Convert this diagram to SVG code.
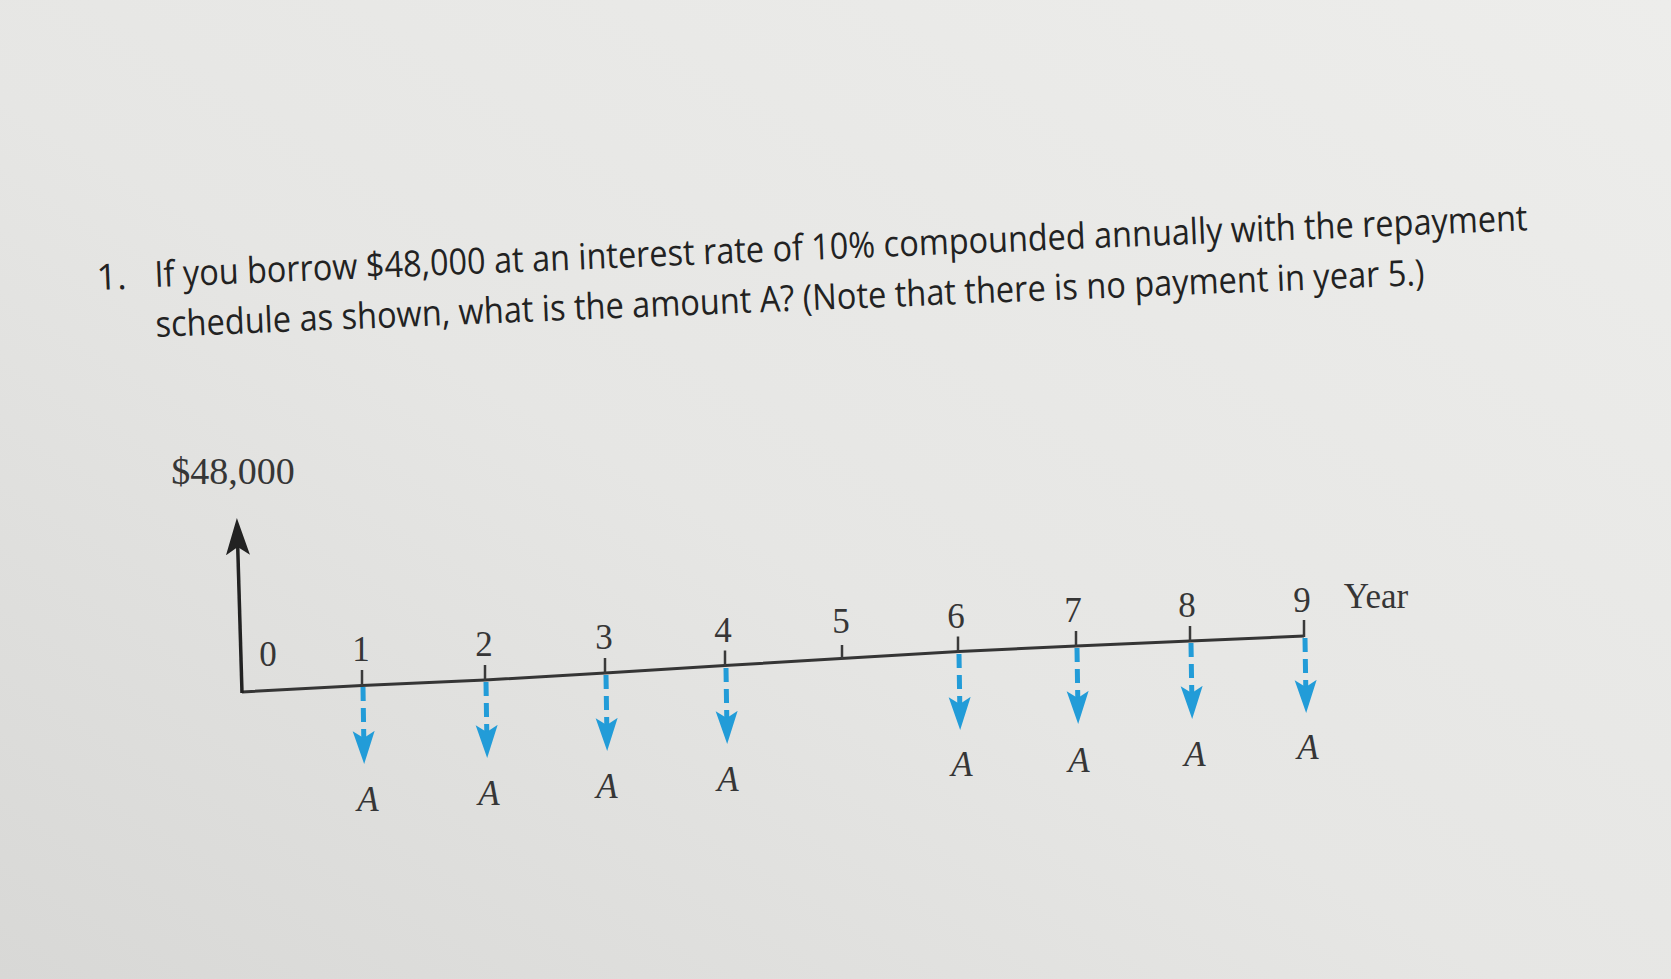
<svg xmlns="http://www.w3.org/2000/svg" width="1671" height="979" viewBox="0 0 1671 979">
  <defs>
    <linearGradient id="bg" x1="1" y1="0" x2="0" y2="1">
      <stop offset="0" stop-color="#ededeb"/>
      <stop offset="0.55" stop-color="#e6e6e4"/>
      <stop offset="1" stop-color="#d8d8d6"/>
    </linearGradient>
    <marker id="blueHead" markerUnits="userSpaceOnUse" viewBox="0 -12 34 24" refX="22" refY="0" markerWidth="34" markerHeight="24" orient="auto">
      <path d="M0,-11 L33,0 L0,11 L7,0 Z" fill="#229cd8"/>
    </marker>
    <marker id="blackHead" markerUnits="userSpaceOnUse" viewBox="0 -13 38 26" refX="26" refY="0" markerWidth="38" markerHeight="26" orient="auto">
      <path d="M0,-12 L37,0 L0,12 L8,0 Z" fill="#222"/>
    </marker>
  </defs>
  <style>
    .title { font-family: "Open Sans", "Liberation Sans", sans-serif; font-size: 36px; font-weight: 500; fill: #222; }
    .num { font-family: "Liberation Serif", serif; font-size: 35px; fill: #363636; text-anchor: middle; }
    .amt { font-family: "Liberation Serif", serif; font-size: 35px; font-style: italic; fill: #363636; text-anchor: middle; }
    .tick { stroke: #3a3a3a; stroke-width: 2.5; fill: none; }
    .pay { stroke: #229cd8; stroke-width: 5; stroke-dasharray: 14 7; fill: none; marker-end: url(#blueHead); }
  </style>
  <rect width="1671" height="979" fill="url(#bg)"/>

  <g id="question">
    <text class="title" x="97" y="290" transform="rotate(-2.37 97 290)">1.</text>
    <text class="title" x="155" y="287" transform="rotate(-2.37 155 287)" textLength="1374" lengthAdjust="spacingAndGlyphs">If you borrow $48,000 at an interest rate of 10% compounded annually with the repayment</text>
    <text class="title" x="156" y="337" transform="rotate(-2.35 156 337)" textLength="1270" lengthAdjust="spacingAndGlyphs">schedule as shown, what is the amount A? (Note that there is no payment in year 5.)</text>
  </g>

  <g id="axis">
    <polyline points="242,692 362,685.5 485,680 605,673 725,665.5 841,658.5 959,651.5 1076,646 1190,641 1304,636" fill="none" stroke="#353535" stroke-width="3"/>
    <text class="num" x="1376" y="608">Year</text>
  </g>

  <g id="loan">
    <line x1="242" y1="693" x2="237.2" y2="529" stroke="#222" stroke-width="3.5" marker-end="url(#blackHead)"/>
    <text class="num" x="233" y="484" style="font-size:38px">$48,000</text>
  </g>

  <g id="year-0"><text class="num" x="268" y="666">0</text></g>
  <g id="year-1"><line class="tick" x1="362" y1="670" x2="362" y2="686"/><text class="num" x="361" y="661">1</text></g>
  <g id="year-2"><line class="tick" x1="485" y1="665" x2="485" y2="681"/><text class="num" x="484" y="656">2</text></g>
  <g id="year-3"><line class="tick" x1="605" y1="658" x2="605" y2="674"/><text class="num" x="604" y="649">3</text></g>
  <g id="year-4"><line class="tick" x1="725" y1="650.5" x2="725" y2="666.5"/><text class="num" x="723" y="642">4</text></g>
  <g id="year-5"><line class="tick" x1="842" y1="645" x2="842" y2="659"/><text class="num" x="841" y="633">5</text></g>
  <g id="year-6"><line class="tick" x1="958" y1="636.5" x2="958" y2="652.5"/><text class="num" x="956" y="628">6</text></g>
  <g id="year-7"><line class="tick" x1="1076" y1="631" x2="1076" y2="647"/><text class="num" x="1073" y="622">7</text></g>
  <g id="year-8"><line class="tick" x1="1190" y1="626" x2="1190" y2="642"/><text class="num" x="1187" y="617">8</text></g>
  <g id="year-9"><line class="tick" x1="1304" y1="620" x2="1304" y2="637"/><text class="num" x="1302" y="612">9</text></g>

  <g id="payment-labels">
    <text class="amt" x="368" y="811">A</text>
    <text class="amt" x="489" y="805">A</text>
    <text class="amt" x="607" y="798">A</text>
    <text class="amt" x="728" y="791">A</text>
    <text class="amt" x="962" y="776">A</text>
    <text class="amt" x="1079" y="772">A</text>
    <text class="amt" x="1195" y="766">A</text>
    <text class="amt" x="1308" y="759">A</text>
  </g>

  <g id="connectors">
    <line class="pay" x1="363" y1="687" x2="364" y2="753"/>
    <line class="pay" x1="486" y1="682" x2="487" y2="747"/>
    <line class="pay" x1="606" y1="675" x2="607" y2="740"/>
    <line class="pay" x1="726" y1="668" x2="727" y2="733"/>
    <line class="pay" x1="959" y1="654" x2="960" y2="719"/>
    <line class="pay" x1="1077" y1="648" x2="1078" y2="713"/>
    <line class="pay" x1="1191" y1="643" x2="1192" y2="708"/>
    <line class="pay" x1="1305" y1="638" x2="1306" y2="702"/>
  </g>
</svg>
